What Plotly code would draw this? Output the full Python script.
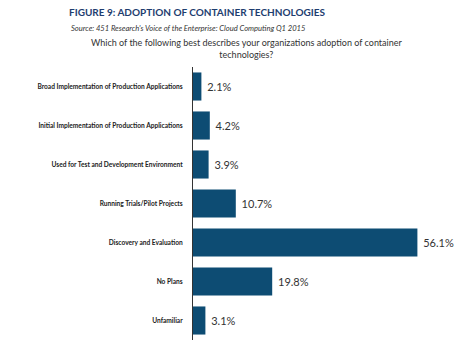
import plotly.graph_objects as go

categories = [
    "Broad Implementation of Production Applications",
    "Initial Implementation of Production Applications",
    "Used for Test and Development Environment",
    "Running Trials/Pilot Projects",
    "Discovery and Evaluation",
    "No Plans",
    "Unfamiliar",
]
values = [2.1, 4.2, 3.9, 10.7, 56.1, 19.8, 3.1]
value_labels = ["2.1%", "4.2%", "3.9%", "10.7%", "56.1%", "19.8%", "3.1%"]

W, H = 474, 351
L, R, T, B = 193, 0, 67, 11
pw, ph = W - L - R, H - T - B

def px_x(x):
    return (x - L) / pw

def px_y(y):
    return (H - B - y) / ph

fig = go.Figure(go.Bar(
    x=values, y=categories, orientation="h",
    marker=dict(color="#0d4c73", line=dict(width=0)),
    text=value_labels, texttemplate=" %{text}", textposition="outside",
    textfont=dict(family="Lato, Open Sans, sans-serif", size=11, color="#333333"),
    cliponaxis=False,
    hoverinfo="skip",
))

fig.update_layout(
    width=W, height=H,
    margin=dict(l=L, r=R, t=T, b=B, pad=0, autoexpand=False),
    paper_bgcolor="white", plot_bgcolor="white",
    showlegend=False,
    bargap=0.28,
    title=dict(
        text="<b>FIGURE 9: ADOPTION OF CONTAINER TECHNOLOGIES</b>",
        x=69 / W, xanchor="left", xref="container",
        y=1 - 12.5 / H, yref="container", yanchor="middle",
        font=dict(family="Lato, Open Sans, sans-serif", size=10, color="#1e3d6f"),
    ),
    xaxis=dict(range=[0, pw / 4.0], visible=False, fixedrange=True, automargin=False),
    yaxis=dict(
        autorange="reversed", showline=True, linecolor="#333333", linewidth=1,
        ticks="", showgrid=False, zeroline=False, automargin=False,
        ticklabelstandoff=8,
        tickfont=dict(family="Lato, sans-serif",
                      size=6.6, color="#222222", weight="bold"),
    ),
    annotations=[
        dict(text="<i>Source: 451 Research's Voice of the Enterprise: Cloud Computing Q1 2015</i>",
             xref="paper", yref="paper", x=px_x(69), y=px_y(27.5),
             xanchor="left", yanchor="middle", showarrow=False,
             font=dict(family="Lato, Open Sans, sans-serif", size=7.6, color="#333333")),
        dict(text="Which of the following best describes your organizations adoption of container<br>technologies?",
             xref="paper", yref="paper", x=px_x(246), y=px_y(48),
             xanchor="center", yanchor="middle", showarrow=False, align="center",
             font=dict(family="Lato, Open Sans, sans-serif", size=9, color="#333333")),
    ],
)

fig.write_html("out.html")
